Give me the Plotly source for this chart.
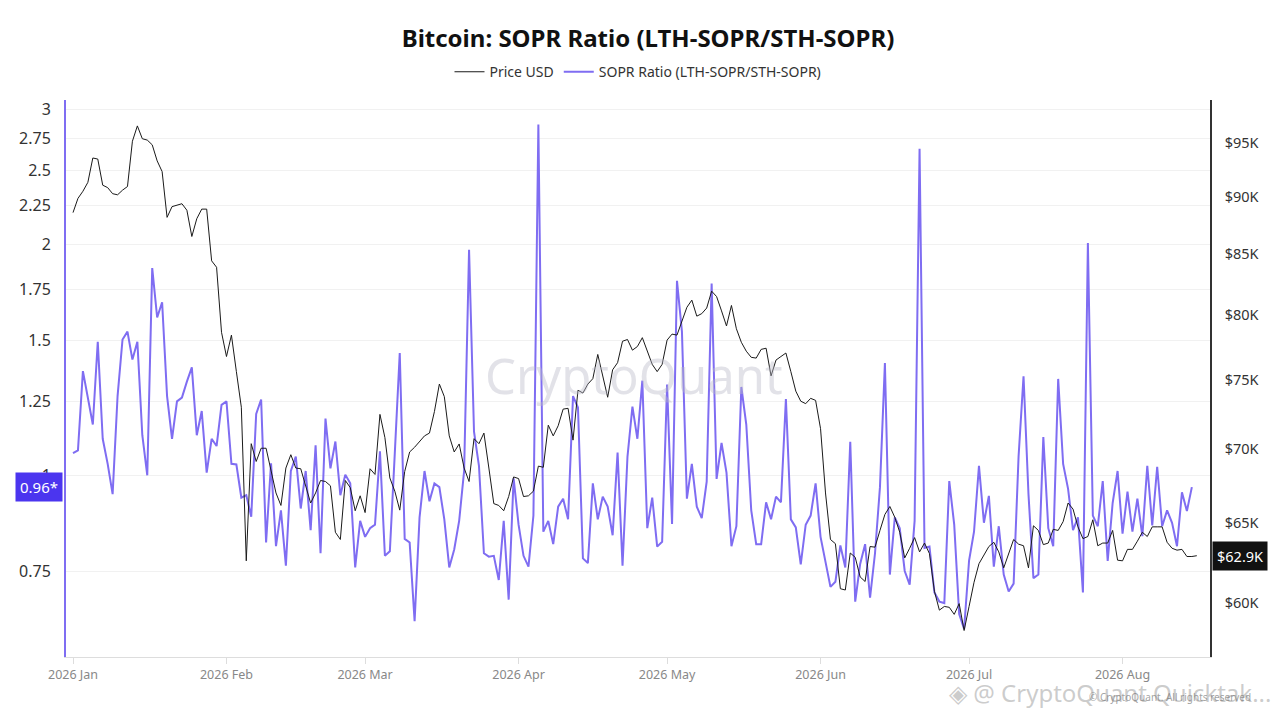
import math
import pandas as pd
import plotly.graph_objects as go

# daily values, starting 2026-01-01
price_usd = [
    88620, 89890, 90530, 91340, 93590, 93490, 91080, 90860, 90310, 90210,
    90630, 90960, 95170, 96640, 95410, 95280, 94830, 93320, 92330, 88200,
    89150, 89310, 89410, 88830, 86530, 88080, 88930, 88930, 84450, 83910,
    78630, 76750, 78410, 75600, 72960, 62580, 70350, 69110, 70030,
    70030, 68420, 66970, 66140, 68660, 69580, 68660, 68610, 67450, 66300,
    66970, 67810, 67740, 67450, 64390, 63930, 67810, 67330, 65790, 66780,
    65670, 68610, 68220, 72440, 70780, 67980, 67090, 65830, 68420, 69770,
    70100, 70520, 70900, 71100, 72640, 74670, 73740, 70900,
    69770, 70330, 68660, 67740, 70700, 70350, 71100, 68660, 66260, 66140,
    65790, 66730, 68050, 67940, 66730, 66780, 67090, 68790, 68710, 71660,
    70900, 71620, 72820, 72880, 70600, 74210, 74000, 74670, 75070, 76910,
    75280, 73690, 75740, 76280, 77930, 78070, 77240, 77520, 78210,
    77100, 76150, 75600, 76150, 78020, 78490, 78410, 79480, 80620, 81200,
    79910, 80110, 80560, 81930, 81490, 80330, 79130, 80770, 78910, 77850,
    77160, 76690, 76630, 77300, 77390, 75280, 76480, 76750, 77020, 75600,
    74140, 73400, 73220, 73610, 73460, 71410, 66970, 63930,
    63660, 60860, 60780, 63070, 62800, 61580, 61300, 63480, 63440, 64510,
    65550, 66070, 65360, 64390, 62760, 63370, 64050, 63140, 63700, 63030,
    60710, 59570, 59790, 59740, 59320, 59960, 58370, 59790, 61250, 62400,
    62910, 63480, 63750, 63140, 62140, 63030, 63930,
    63630, 63530, 62140, 64810, 64510, 63600, 63700, 64580, 64510, 65080,
    66300, 65900, 64740, 63980, 64120, 65200, 63530, 63700, 63700, 64510,
    62620, 62580, 63300, 63300, 63820, 64390, 64120, 64740, 64740, 64740,
    63750, 63370, 63250, 63300, 62850, 62850, 62900,
]

sopr_ratio = [
    1.070, 1.079, 1.369, 1.270, 1.166, 1.495, 1.117, 1.036, 0.946, 1.270,
    1.505, 1.541, 1.417, 1.495, 1.129, 1.001, 1.865, 1.608, 1.683, 1.270,
    1.117, 1.250, 1.264, 1.326, 1.384, 1.129, 1.214, 1.009, 1.117, 1.093,
    1.237, 1.250, 1.036, 1.034, 0.936, 0.943, 0.884, 1.204, 1.257,
    0.818, 1.038, 0.809, 0.901, 0.763, 1.014, 1.059, 0.906, 1.014, 0.849,
    1.095, 0.792, 1.187, 1.022, 1.108, 0.943, 1.003, 0.977, 0.759, 0.873,
    0.832, 0.854, 0.863, 1.076, 0.786, 0.797, 1.070, 1.445, 0.827, 0.818,
    0.646, 0.882, 1.014, 0.926, 0.977, 0.966, 0.877, 0.759,
    0.801, 0.873, 1.014, 1.970, 1.141, 1.030, 0.792, 0.784, 0.786, 0.731,
    0.873, 0.689, 0.992, 0.863, 0.786, 0.761, 0.887, 2.871, 0.845, 0.873,
    0.814, 0.911, 0.933, 0.877, 1.270, 1.227, 0.780, 0.769, 0.977, 0.877,
    0.939, 0.911, 0.836, 1.072, 0.763, 1.059, 1.230, 1.117, 1.330,
    0.854, 0.936, 0.808, 0.820, 1.315, 0.865, 1.795, 1.541, 0.933, 1.036,
    0.911, 0.880, 0.982, 1.781, 0.990, 1.103, 1.009, 0.809, 0.859, 1.305,
    1.166, 0.901, 0.814, 0.814, 0.923, 0.877, 0.939, 0.923, 1.259, 0.877,
    0.856, 0.766, 0.863, 0.887, 0.977, 0.832, 0.775, 0.716,
    0.727, 0.811, 0.759, 1.107, 0.685, 0.767, 0.814, 0.693, 0.792, 0.966,
    1.402, 0.743, 0.882, 0.854, 0.751, 0.721, 0.873, 2.669, 0.805, 0.808,
    0.704, 0.685, 0.682, 0.984, 0.863, 0.660, 0.631, 0.775, 0.845, 1.030,
    0.868, 0.941, 0.761, 0.859, 0.743, 0.706, 0.723,
    1.060, 1.348, 0.946, 0.735, 0.743, 1.123, 0.854, 0.809, 1.337, 1.036,
    0.961, 0.849, 0.882, 0.704, 2.011, 0.887, 0.859, 0.984, 0.774, 0.921,
    1.014, 0.840, 0.953, 0.845, 0.933, 0.834, 1.030, 0.861, 1.027, 0.859,
    0.901, 0.868, 0.809, 0.951, 0.899, 0.966,
]

sopr_ticks = [0.75, 1, 1.25, 1.5, 1.75, 2, 2.25, 2.5, 2.75, 3]
sopr_tick_labels = ["0.75", "1", "1.25", "1.5", "1.75", "2", "2.25", "2.5", "2.75", "3"]
price_ticks = [60000, 65000, 70000, 75000, 80000, 85000, 90000, 95000]
price_tick_labels = ["$60K", "$65K", "$70K", "$75K", "$80K", "$85K", "$90K", "$95K"]

price_dates = pd.date_range("2026-01-01", periods=len(price_usd), freq="D")
sopr_dates = pd.date_range("2026-01-01", periods=len(sopr_ratio), freq="D")

PURPLE = "#7F6DF2"
FONT = "Noto Sans"

fig = go.Figure()

fig.add_trace(go.Scatter(
    x=price_dates, y=price_usd, name="Price USD", mode="lines",
    yaxis="y2", line=dict(color="#1a1a1a", width=1),
))
fig.add_trace(go.Scatter(
    x=sopr_dates, y=sopr_ratio, name="SOPR Ratio (LTH-SOPR/STH-SOPR)",
    mode="lines", yaxis="y", line=dict(color=PURPLE, width=2),
))

last_sopr = sopr_ratio[-1]
last_price = price_usd[-1]

# the page puts the figure 8px in from the top-left corner, margins allow for that
fig.update_layout(
    width=1280, height=720,
    paper_bgcolor="white", plot_bgcolor="white",
    font=dict(family=FONT, color="#333333", size=14),
    margin=dict(l=58, r=78, t=92, b=71),
    title=dict(
        text="<b>Bitcoin: SOPR Ratio (LTH-SOPR/STH-SOPR)</b>",
        x=0.5, xanchor="center", y=0.958, yanchor="middle",
        font=dict(family=FONT, size=24, color="#111111"),
    ),
    legend=dict(
        orientation="h", x=0.5, xanchor="center", y=1.05, yanchor="middle",
        font=dict(size=14, color="#333333"), bgcolor="rgba(0,0,0,0)",
    ),
    showlegend=True,
    xaxis=dict(
        type="date",
        range=["2025-12-30 14:00", "2026-08-18 16:00"],
        tick0="2026-01-01", dtick="M1", tickformat="%Y %b",
        showgrid=False, showline=True, linecolor="#dddddd", linewidth=1,
        ticks="outside", ticklen=6, tickcolor="#dddddd",
        tickfont=dict(size=12.5, color="#888888"),
        zeroline=False,
    ),
    yaxis=dict(
        type="log",
        range=[math.log10(0.58), math.log10(3.09)],
        tickvals=sopr_ticks, ticktext=sopr_tick_labels,
        showgrid=True, gridcolor="#f1f1f1", gridwidth=1,
        showline=True, linecolor=PURPLE, linewidth=2,
        ticklabelstandoff=10,
        tickfont=dict(size=16, color="#333333"),
        zeroline=False,
    ),
    yaxis2=dict(
        type="log", overlaying="y", side="right",
        range=[math.log10(56846), math.log10(99173)],
        tickvals=price_ticks, ticktext=price_tick_labels,
        showgrid=False, showline=True, linecolor="#333333", linewidth=1.5,
        ticklabelstandoff=10,
        tickfont=dict(size=14.5, color="#333333"),
        zeroline=False,
    ),
)

sopr_label = "%.2f*" % (math.floor(last_sopr * 100) / 100)
price_label = "$%.1fK" % (last_price / 1000)

fig.add_annotation(
    xref="paper", yref="y", x=0, y=math.log10(last_sopr),
    xanchor="right", yanchor="middle", xshift=-3,
    text=sopr_label, showarrow=False,
    bgcolor="#4B35EF", borderpad=4,
    font=dict(size=15, color="white"),
)
fig.add_annotation(
    xref="paper", yref="y2", x=1, y=math.log10(last_price),
    xanchor="left", yanchor="middle", xshift=2,
    text=price_label, showarrow=False,
    bgcolor="#111111", borderpad=4,
    font=dict(size=14.5, color="white"),
)

# watermarks
fig.add_annotation(
    xref="paper", yref="paper", x=0.4965, y=0.506,
    text="CryptoQuant", showarrow=False,
    font=dict(size=49, color="rgba(185,185,200,0.42)", family=FONT),
)
fig.add_annotation(
    xref="paper", yref="paper", x=1.055, y=-0.064,
    xanchor="right", yanchor="middle",
    text="◈ @ CryptoQuant Quicktak...", showarrow=False,
    font=dict(size=24, color="rgba(170,170,170,0.6)", family=FONT),
)
fig.add_annotation(
    xref="paper", yref="paper", x=0.965, y=-0.072,
    xanchor="center", yanchor="middle",
    text="© CryptoQuant. All rights reserved", showarrow=False,
    font=dict(size=10, color="rgba(120,120,120,0.7)", family=FONT),
)

fig.write_html("out.html")
